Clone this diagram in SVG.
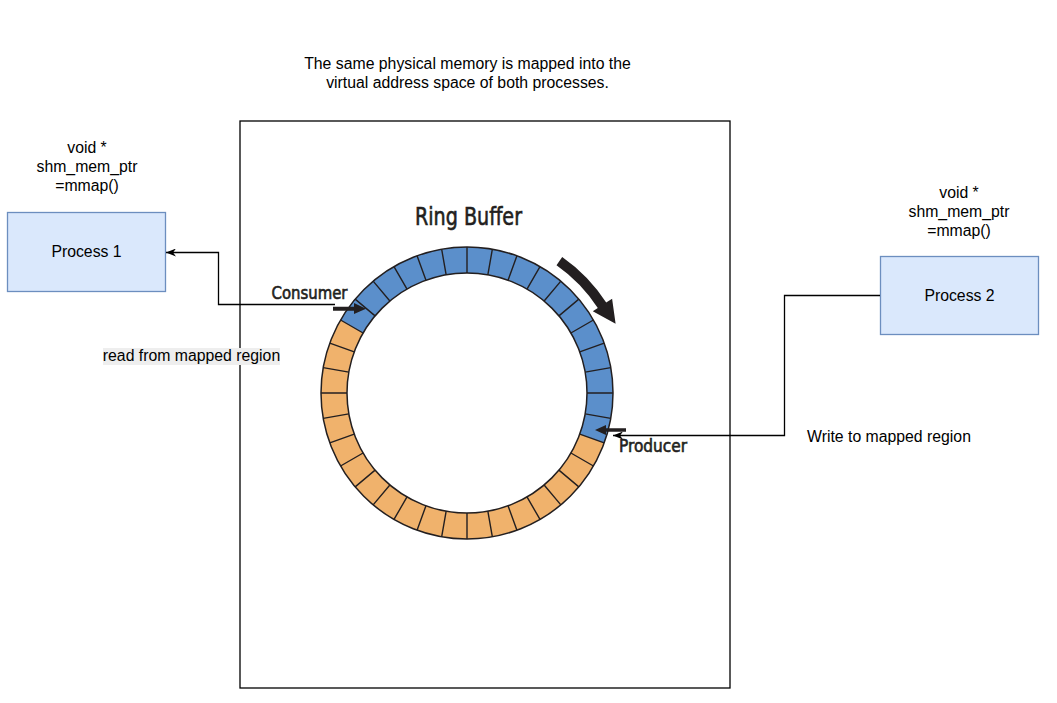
<svg xmlns="http://www.w3.org/2000/svg" xmlns:xlink="http://www.w3.org/1999/xlink" width="1057" height="703" viewBox="0 0 1057 703">
<style>
.lbl{font-family:"Liberation Sans",Arial,sans-serif;font-size:15.8px;fill:#000;text-anchor:middle}
.cond{font-family:"DejaVu Sans Condensed","DejaVu Sans",sans-serif;font-stretch:condensed;fill:#231f20;stroke:#231f20;stroke-width:0.6}
.proc{fill:#dae8fc;stroke:#6c8ebf;stroke-width:1.3}
.conn{fill:none;stroke:#000;stroke-width:1.3}
.ringline{stroke:#231f20;stroke-width:1.5;fill:none}
</style>
<defs>
<marker id="arr" viewBox="0 0 10 8" refX="10" refY="4" markerWidth="10" markerHeight="8" markerUnits="userSpaceOnUse" orient="auto">
<path d="M0,0 L10,4 L0,8 L3,4 Z" fill="#000"/>
</marker>
<line id="spoke" x1="321" y1="393" x2="613" y2="393" stroke="#231f20" stroke-width="1.4" stroke-dasharray="26 240"/>
</defs>
<rect width="1057" height="703" fill="#fff"/>

<g id="title-text">
<text class="lbl" x="467.5" y="69">The same physical memory is mapped into the</text>
<text class="lbl" x="467.5" y="88">virtual address space of both processes.</text>
</g>

<g id="shared-memory">
<rect x="240" y="121" width="490" height="567" fill="none" stroke="#000" stroke-width="1.3"/>
</g>

<g id="ring-buffer">
<circle cx="467" cy="393" r="133" fill="none" stroke="#f0b26c" stroke-width="26"/>
<path d="M351.82 326.5 A133 133 0 0 1 591.98 438.49" fill="none" stroke="#5b8fcb" stroke-width="26"/>
<circle class="ringline" cx="467" cy="393" r="146"/>
<circle class="ringline" cx="467" cy="393" r="120"/>
<use xlink:href="#spoke"/>
<use xlink:href="#spoke" transform="rotate(10 467 393)"/>
<use xlink:href="#spoke" transform="rotate(20 467 393)"/>
<use xlink:href="#spoke" transform="rotate(30 467 393)"/>
<use xlink:href="#spoke" transform="rotate(40 467 393)"/>
<use xlink:href="#spoke" transform="rotate(50 467 393)"/>
<use xlink:href="#spoke" transform="rotate(60 467 393)"/>
<use xlink:href="#spoke" transform="rotate(70 467 393)"/>
<use xlink:href="#spoke" transform="rotate(80 467 393)"/>
<use xlink:href="#spoke" transform="rotate(90 467 393)"/>
<use xlink:href="#spoke" transform="rotate(100 467 393)"/>
<use xlink:href="#spoke" transform="rotate(110 467 393)"/>
<use xlink:href="#spoke" transform="rotate(120 467 393)"/>
<use xlink:href="#spoke" transform="rotate(130 467 393)"/>
<use xlink:href="#spoke" transform="rotate(140 467 393)"/>
<use xlink:href="#spoke" transform="rotate(150 467 393)"/>
<use xlink:href="#spoke" transform="rotate(160 467 393)"/>
<use xlink:href="#spoke" transform="rotate(170 467 393)"/>
<path d="M562.2 257 A166 166 0 0 1 606.2 302.6 L612.1 298.8 L615.6 323.7 L592.8 311.3 L597.8 308 A156 156 0 0 0 556.5 265.2 Z" fill="#231f20"/>
<text class="cond" x="415" y="225" font-size="25" textLength="107" lengthAdjust="spacingAndGlyphs">Ring Buffer</text>
</g>

<g id="consumer">
<text class="cond" x="271.5" y="298.5" font-size="18" textLength="76" lengthAdjust="spacingAndGlyphs">Consumer</text>
<path d="M333 306.7 H354 V303 L366 308.7 L354 314 V310.7 H333 Z" fill="#231f20"/>
</g>

<g id="producer">
<text class="cond" x="619" y="452" font-size="18" textLength="68" lengthAdjust="spacingAndGlyphs">Producer</text>
<path d="M626 428.2 H606 V425 L595 430 L606 435 V431.8 H626 Z" fill="#231f20"/>
</g>

<g id="process1">
<rect class="proc" x="7.5" y="212.5" width="158" height="79"/>
<text class="lbl" x="86.5" y="257">Process 1</text>
<text class="lbl" x="87" y="153">void *</text>
<text class="lbl" x="87" y="172">shm_mem_ptr</text>
<text class="lbl" x="87" y="190.5">=mmap()</text>
</g>

<g id="process2">
<rect class="proc" x="880.5" y="256.5" width="158" height="78"/>
<text class="lbl" x="959.5" y="301">Process 2</text>
<text class="lbl" x="959" y="198">void *</text>
<text class="lbl" x="959" y="217">shm_mem_ptr</text>
<text class="lbl" x="959" y="235.5">=mmap()</text>
</g>

<g id="connectors">
<path class="conn" d="M335 304.5 H218.5 V252.5 H166" marker-end="url(#arr)"/>
<path class="conn" d="M880 295.5 H784.5 V435.5 H613" marker-end="url(#arr)"/>
</g>

<g id="edge-labels">
<rect x="103" y="348" width="177" height="17" fill="#eeeeee"/>
<text class="lbl" x="191.5" y="361">read from mapped region</text>
<text class="lbl" x="889" y="442">Write to mapped region</text>
</g>
</svg>
